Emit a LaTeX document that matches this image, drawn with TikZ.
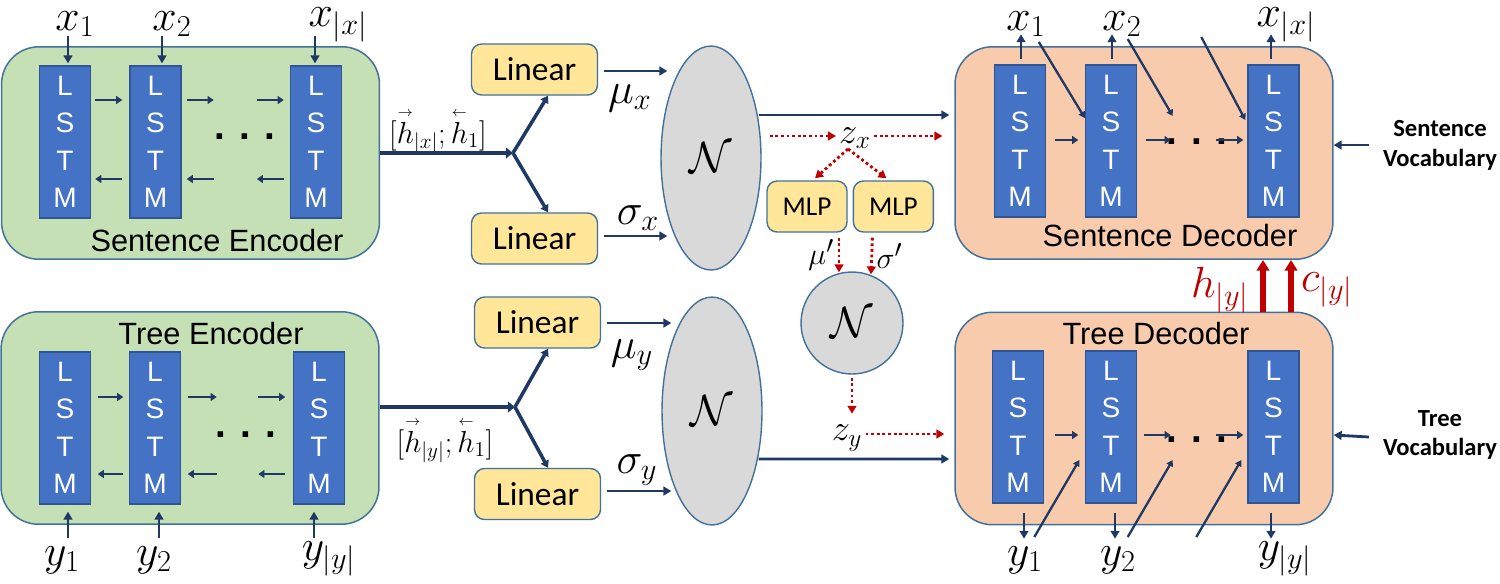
\documentclass[tikz,border=0pt]{standalone}
\usepackage{amsmath,amssymb}
\usepackage[no-math]{fontspec}
\setmainfont{Liberation Sans}
\newfontfamily\calibri{Carlito}
\usepackage{tikz}
\usetikzlibrary{calc, shapes.geometric, arrows.meta, positioning}
\definecolor{lstmBlue}{HTML}{4472C4}
\definecolor{lstmEdge}{HTML}{2F5597}
\definecolor{boxEdge}{HTML}{41719C}
\definecolor{encGreen}{HTML}{C5E0B4}
\definecolor{decPeach}{HTML}{F8CBAD}
\definecolor{linYellow}{HTML}{FFE699}
\definecolor{gaussGray}{HTML}{D9D9D9}
\definecolor{darkNavy}{HTML}{1F3864}
\definecolor{darkRed}{HTML}{C00000}
\newcommand{\fwd}[1]{\overset{\scriptscriptstyle\rightarrow}{#1}}
\newcommand{\bwd}[1]{\overset{\scriptscriptstyle\leftarrow}{#1}}

\begin{document}
\begin{tikzpicture}[
    x=0.02cm, y=-0.02cm,
    module/.style={rectangle, draw=boxEdge, line width=0.85pt, rounded corners=0.75cm, minimum width=7.56cm, minimum height=4.25cm},
    enc/.style={module, fill=encGreen},
    dec/.style={module, fill=decPeach},
    lstm/.style={rectangle, draw=lstmEdge, line width=0.8pt, fill=lstmBlue, text=white, minimum width=1.02cm, minimum height=3.04cm, align=center, inner sep=0pt, font=\fontsize{16}{21.3}\selectfont},
    modtitle/.style={font=\fontsize{17.5}{20}\selectfont},
    linear/.style={rectangle, draw=boxEdge, line width=0.8pt, fill=linYellow, rounded corners=0.2cm, minimum width=2.52cm, minimum height=1.02cm, font=\calibri\fontsize{19}{22}\selectfont},
    mlp/.style={linear, minimum width=1.6cm, font=\calibri\fontsize{15.5}{18}\selectfont},
    gauss/.style={ellipse, draw=boxEdge, line width=0.8pt, fill=gaussGray, minimum width=2cm, minimum height=4.48cm, font=\fontsize{32}{36}\selectfont},
    sym/.style={inner sep=0pt, font=\fontsize{24}{26}\selectfont},
    hlabel/.style={inner sep=1pt, font=\fontsize{17}{19}\selectfont},
    chaindots/.style={font=\bfseries\fontsize{22}{24}\selectfont},
    vocab/.style={align=center, font=\calibri\bfseries\fontsize{14}{17}\selectfont},
    arrow/.style={-{Triangle[length=4.5pt, width=5pt]}, line width=1.6pt, color=darkNavy},
    chain/.style={-{Triangle[length=3.5pt, width=4.5pt]}, line width=1.6pt, color=darkNavy},
    slimarrow/.style={-{Triangle[length=3.5pt, width=4pt]}, line width=1.3pt, color=darkNavy},
    fatarrow/.style={-{Triangle[length=4pt, width=6pt]}, line width=2.8pt, color=darkNavy},
    forkarrow/.style={-{Triangle[length=4pt, width=5pt]}, line width=2pt, color=darkNavy},
    reddot/.style={-{Triangle[length=4.5pt, width=5pt]}, line width=1.6pt, color=darkRed, dash pattern=on 1.6pt off 1.6pt},
    redarrow/.style={-{Triangle[length=6pt, width=7pt]}, line width=3pt, color=darkRed}
]
    \useasboundingbox (0,0) rectangle (1500,583);

    % Modules
    \node[enc] (senc) at (190.5,153) {};
    \node[enc] (tenc) at (190,418) {};
    \node[dec] (sdec) at (1144,153) {};
    \node[dec] (tdec) at (1144,418.5) {};
    \node[modtitle] (senctitle) at (217,240) {Sentence Encoder};
    \node[modtitle] (tenctitle) at (211,333) {Tree Encoder};
    \node[modtitle] (sdectitle) at (1170,235) {Sentence Decoder};
    \node[modtitle] (tdectitle) at (1156,333) {Tree Decoder};

    % LSTM cells
    \node[lstm] (se1) at (65,142) {L\\S\\T\\M};
    \node[lstm] (se2) at (155.5,142) {L\\S\\T\\M};
    \node[lstm] (se3) at (316,142) {L\\S\\T\\M};
    \node[lstm] (te1) at (65,428) {L\\S\\T\\M};
    \node[lstm] (te2) at (155,428) {L\\S\\T\\M};
    \node[lstm] (te3) at (319,428) {L\\S\\T\\M};
    \node[lstm] (sd1) at (1020,141) {L\\S\\T\\M};
    \node[lstm] (sd2) at (1111,141) {L\\S\\T\\M};
    \node[lstm] (sd3) at (1273.5,141) {L\\S\\T\\M};
    \node[lstm] (td1) at (1018,427) {L\\S\\T\\M};
    \node[lstm] (td2) at (1111,427) {L\\S\\T\\M};
    \node[lstm] (td3) at (1273.5,427) {L\\S\\T\\M};
    \node[chaindots] (sedots) at (245,137) {. . .};
    \node[chaindots] (tedots) at (246,435) {. . .};
    \node[chaindots] (sddots) at (1197,142) {. . .};
    \node[chaindots] (tddots) at (1197,440) {. . .};

    % Tokens
    \node[sym] (sx1) at (75,24) {$x_1$};
    \node[sym] (sx2) at (172,24) {$x_2$};
    \node[sym] (sxn) at (338,25) {$x_{|x|}$};
    \node[sym] (ty1) at (62,560) {$y_1$};
    \node[sym] (ty2) at (154,560) {$y_2$};
    \node[sym] (tyn) at (329,559) {$y_{|y|}$};
    \node[sym] (dx1) at (1026,24) {$x_1$};
    \node[sym] (dx2) at (1122,24) {$x_2$};
    \node[sym] (dxn) at (1286,25) {$x_{|x|}$};
    \node[sym] (dy1) at (1025,560) {$y_1$};
    \node[sym] (dy2) at (1118,560) {$y_2$};
    \node[sym] (dyn) at (1285,559) {$y_{|y|}$};

    % Latent part
    \node[linear] (lmux) at (534.5,69.5) {Linear};
    \node[linear] (lsgx) at (534.5,238.5) {Linear};
    \node[linear] (lmuy) at (537.5,322.5) {Linear};
    \node[linear] (lsgy) at (537.5,494) {Linear};
    \coordinate (sfork) at (513,153);
    \coordinate (tfork) at (515,407);
    \node[hlabel] (shlab) at (438,131) {$[\fwd{h}_{|x|};\bwd{h}_1]$};
    \node[hlabel] (thlab) at (445,440) {$[\fwd{h}_{|y|};\bwd{h}_1]$};
    \node[gauss] (nx) at (711,158) {$\mathcal{N}$};
    \node[gauss, minimum height=4.56cm] (ny) at (712,411) {$\mathcal{N}$};
    \node[circle, draw=boxEdge, line width=0.8pt, fill=gaussGray, minimum size=2.04cm, font=\fontsize{26}{30}\selectfont] (nz) at (852,323) {$\mathcal{N}$};
    \node[sym] (mux) at (630,98) {$\mu_x$};
    \node[sym] (sgx) at (638,218) {$\sigma_x$};
    \node[sym] (muy) at (632,355) {$\mu_y$};
    \node[sym] (sgy) at (637,470) {$\sigma_y$};
    \node[sym, font=\fontsize{22}{24}\selectfont] (zx) at (855,138) {$z_x$};
    \node[sym, font=\fontsize{22}{24}\selectfont] (zy) at (847,438) {$z_y$};
    \node[mlp] (mlpmu) at (807,206.5) {MLP};
    \node[mlp, right=0.1cm of mlpmu] (mlpsg) {MLP};
    \node[sym, text=darkRed, font=\fontsize{23}{26}\selectfont] (hy) at (1220,290) {$h_{|y|}$};
    \node[sym, text=darkRed, font=\fontsize{23}{26}\selectfont] (cy) at (1327,290) {$c_{|y|}$};
    \node[vocab] (svoc) at (1440,145) {Sentence\\Vocabulary};
    \node[vocab] (tvoc) at (1440,435) {Tree\\Vocabulary};

    % Sentence encoder arrows
    \draw[arrow] ($(se1.north)+(3,-29)$) -- ($(se1.north)+(3,-2)$);
    \draw[arrow] ($(se2.north)+(6.5,-29)$) -- ($(se2.north)+(6.5,-2)$);
    \draw[arrow] ($(se3.north)+(-1,-29)$) -- ($(se3.north)+(-1,-2)$);
    \draw[chain] ($(se1.east)+(4,-42)$) -- ($(se2.west)+(-7,-42)$);
    \draw[chain] ($(se2.east)+(5,-42)$) -- ($(se2.east)+(32,-42)$);
    \draw[chain] ($(se3.west)+(-33,-42)$) -- ($(se3.west)+(-6,-42)$);
    \draw[chain] ($(se2.west)+(-7,37)$) -- ($(se1.east)+(4,37)$);
    \draw[chain] ($(se2.east)+(32,37)$) -- ($(se2.east)+(5,37)$);
    \draw[chain] ($(se3.west)+(-6,37)$) -- ($(se3.west)+(-33,37)$);

    % Tree encoder arrows
    \draw[arrow] ($(te1.south)+(3,33)$) -- ($(te1.south)+(3,7)$);
    \draw[arrow] ($(te2.south)+(4,33)$) -- ($(te2.south)+(4,7)$);
    \draw[arrow] ($(te3.south)+(-5,33)$) -- ($(te3.south)+(-5,7)$);
    \draw[chain] ($(te1.east)+(6.5,-31)$) -- ($(te2.west)+(-5.5,-31)$);
    \draw[chain] ($(te2.east)+(6.5,-31)$) -- ($(te2.east)+(35.5,-31)$);
    \draw[chain] ($(te3.west)+(-34.5,-31)$) -- ($(te3.west)+(-7.5,-31)$);
    \draw[chain] ($(te2.west)+(-5.5,46)$) -- ($(te1.east)+(6.5,46)$);
    \draw[chain] ($(te2.east)+(35.5,46)$) -- ($(te2.east)+(6.5,46)$);
    \draw[chain] ($(te3.west)+(-7.5,46)$) -- ($(te3.west)+(-34.5,46)$);

    % Encoders to Gaussians
    \draw[fatarrow] (senc.east) -- (sfork);
    \draw[fatarrow] (tenc.east |- tfork) -- (tfork);
    \draw[forkarrow] (sfork) -- ($(lmux.south)+(13.5,0)$);
    \draw[forkarrow] (sfork) -- ($(lsgx.north)+(13.5,0)$);
    \draw[forkarrow] (tfork) -- ($(lmuy.south)+(10.5,0)$);
    \draw[forkarrow] (tfork) -- ($(lsgy.north)+(10.5,0)$);
    \draw[arrow] ($(lmux.east)+(6,1.5)$) -- ($(nx.west |- lmux.east)+(7,1.5)$);
    \draw[arrow] ($(lsgx.east)+(6,-2.5)$) -- ($(nx.west |- lsgx.east)+(7,-2.5)$);
    \draw[arrow] ($(lmuy.east)+(6,0.5)$) -- ($(ny.west |- lmuy.east)+(10,0.5)$);
    \draw[arrow] ($(lsgy.east)+(6,-3)$) -- ($(ny.west |- lsgy.east)+(10,-3)$);

    % Gaussians to decoders
    \draw[arrow] ($(nx.east)+(-3,-43)$) -- ($(sdec.west)+(-5,-38)$);
    \draw[arrow] ($(ny.east)+(-4,48)$) -- ($(tdec.west)+(-5,40.5)$);
    \draw[reddot] ($(nx.east |- zx.west)+(8,-2)$) -- ($(zx.west)+(-3,-2)$);
    \draw[reddot] ($(zx.east)+(3,-2)$) -- ($(sdec.west |- zx.east)+(-12,-2)$);
    \draw[reddot] ($(zx.south)+(-7,0)$) -- ($(mlpmu.north)+(8,-2)$);
    \draw[reddot] ($(zx.south)+(-7,0)$) -- ($(mlpsg.north)+(-7,-2)$);
    \draw[reddot] ($(mlpmu.south)+(32,5)$) -- node[sym, left=2pt, text=black, font=\fontsize{19}{21}\selectfont] {$\mu'$} ($(nz.north)+(-13,1)$);
    \draw[reddot] ($(mlpsg.south)+(-21,5)$) -- node[sym, right=2pt, text=black, font=\fontsize{19}{21}\selectfont] {$\sigma'$} ($(nz.north)+(19,3)$);
    \draw[reddot] ($(nz.south)+(0,3)$) -- ($(nz.south)+(0,39)$);
    \draw[reddot] ($(zy.east)+(3,-4)$) -- ($(tdec.west |- zy.east)+(-10,-4)$);
    \draw[redarrow] ($(tdec.north)+(119,0)$) -- ($(sdec.south)+(119,0)$);
    \draw[redarrow] ($(tdec.north)+(147,0)$) -- ($(sdec.south)+(147,0)$);

    % Sentence decoder arrows
    \draw[arrow] ($(sd1.north)+(1,-5)$) -- ($(sd1.north)+(1,-30)$);
    \draw[arrow] ($(sd2.north)+(1,-5)$) -- ($(sd2.north)+(1,-30)$);
    \draw[arrow] ($(sd3.north)+(-2.5,-5)$) -- ($(sd3.north)+(-2.5,-30)$);
    \draw[slimarrow] ($(sd2.west)+(-46,-99)$) -- ($(sd2.west)+(0,-23)$);
    \draw[slimarrow] ($(sd2.east)+(-9.5,-102)$) -- ($(sd2.east)+(35.5,-25)$);
    \draw[slimarrow] ($(sd3.west)+(-46,-104)$) -- ($(sd3.west)+(-2,-21)$);
    \draw[chain] ($(sd1.east)+(8.5,-1)$) -- ($(sd2.west)+(-6.5,-1)$);
    \draw[chain] ($(sd2.east)+(8.5,-1)$) -- ($(sd2.east)+(33.5,-1)$);
    \draw[chain] ($(sd3.west)+(-31,-1)$) -- ($(sd3.west)+(-4,-1)$);
    \draw[arrow] ($(svoc.west)+(-8,0)$) -- (sdec.east |- svoc.west);

    % Tree decoder arrows
    \draw[arrow] ($(td1.south)+(6,9)$) -- ($(td1.south)+(6,35)$);
    \draw[arrow] ($(td2.south)+(4,9)$) -- ($(td2.south)+(4,35)$);
    \draw[arrow] ($(td3.south)+(-2.5,9)$) -- ($(td3.south)+(-2.5,35)$);
    \draw[slimarrow] ($(td2.west)+(-50.5,110)$) -- ($(td2.west)+(-5.5,33)$);
    \draw[slimarrow] ($(td2.east)+(-9.5,110)$) -- ($(td2.east)+(35.5,33)$);
    \draw[slimarrow] ($(td3.west)+(-51,110)$) -- ($(td3.west)+(-6,33)$);
    \draw[chain] ($(td1.east)+(10.5,8)$) -- ($(td2.west)+(-6.5,8)$);
    \draw[chain] ($(td2.east)+(6.5,8)$) -- ($(td2.east)+(33.5,8)$);
    \draw[chain] ($(td3.west)+(-31,8)$) -- ($(td3.west)+(-4,8)$);
    \draw[arrow] ($(tvoc.west)+(-8,2)$) -- (tdec.east |- tvoc.west);
\end{tikzpicture}
\end{document}
